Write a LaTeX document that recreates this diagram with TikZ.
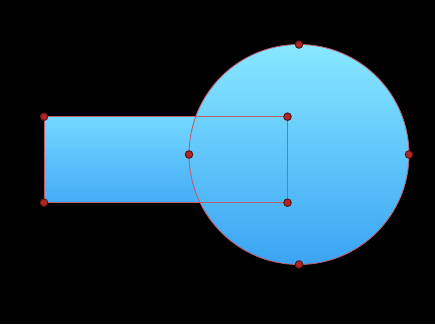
\documentclass[tikz,border=0pt]{standalone}
\definecolor{rtop}{HTML}{74D8FF}
\definecolor{rbot}{HTML}{45ACF7}
\definecolor{ctop}{HTML}{88E8FF}
\definecolor{cmid}{HTML}{6CD0FF}
\definecolor{cbot}{HTML}{3AA4F4}
\definecolor{edge}{HTML}{B86070}
\definecolor{dotfill}{HTML}{B02424}
\definecolor{dotring}{HTML}{5A1515}
\begin{document}
\begin{tikzpicture}[x=1pt,y=1pt,
  outline/.style={draw=edge,line width=0.9pt},
  handle/.style={circle,fill=dotfill,draw=dotring,line width=1pt,inner sep=0pt,minimum size=7.5pt}]
\fill[black] (0,0) rectangle (435,324);
\useasboundingbox (0,0) rectangle (435,324);
% geometry
\coordinate (rtl) at (44,207.3);
\coordinate (rbl) at (44,121.3);
\coordinate (rtr) at (287.5,207.3);
\coordinate (rbr) at (287.5,121.3);
\coordinate (cc) at (299,169.5);
% fills
\shade[top color=rtop,bottom color=rbot] (rbl) rectangle (rtr);
\shade[top color=ctop,middle color=cmid,bottom color=cbot] (cc) circle[radius=110];
% outlines
\draw[outline] (rbl) rectangle (rtr);
\draw[outline] (cc) circle[radius=110];
% handles
\node[handle] (h1) at (rtl) {};
\node[handle] (h2) at (rbl) {};
\node[handle] (h3) at (rtr) {};
\node[handle] (h4) at (rbr) {};
\node[handle] (h5) at ([yshift=110pt]cc) {};
\node[handle] (h6) at ([yshift=-110pt]cc) {};
\node[handle] (h7) at ([xshift=110pt]cc) {};
\node[handle] (h8) at ([xshift=-110pt]cc) {};
\end{tikzpicture}
\end{document}
